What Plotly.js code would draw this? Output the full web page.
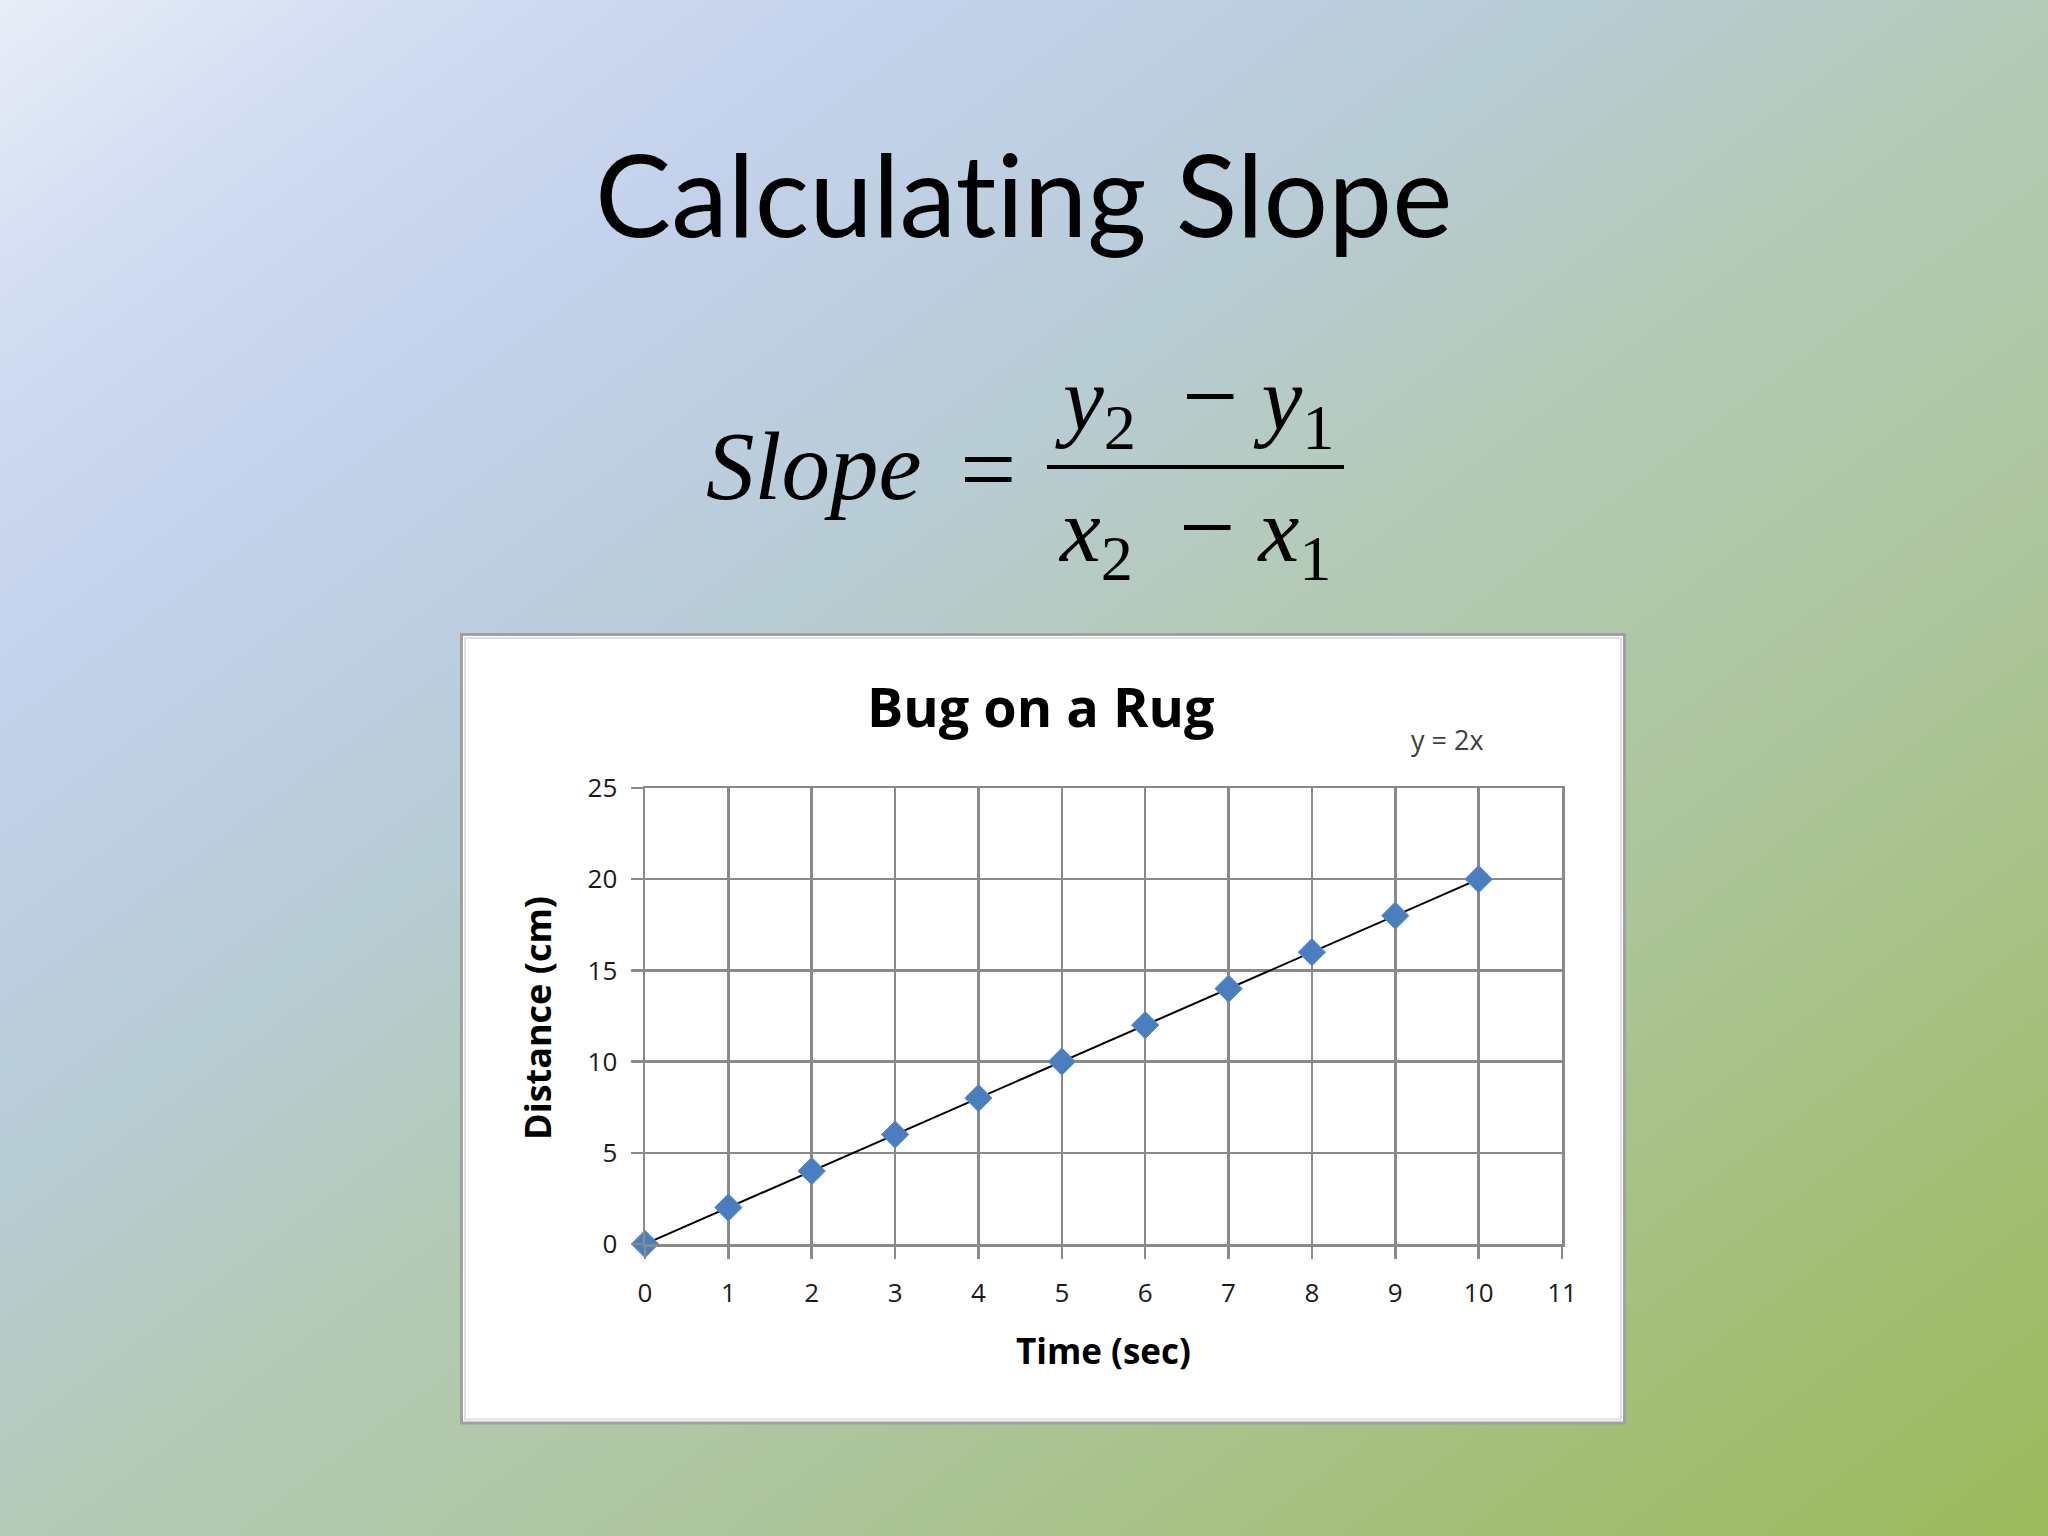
<!DOCTYPE html>
<html>
<head>
<meta charset="utf-8">
<script src="https://cdn.plot.ly/plotly-3.0.1.min.js"></script>
<style>
  html, body { margin: 0; padding: 0; width: 2048px; height: 1536px; overflow: hidden; }
  body {
    background: linear-gradient(to bottom right,
      #e8edf7 0%, #d3ddf2 10%, #c4d2ec 22%, #b8ccd6 38%, #b4cab8 50%,
      #adc59c 68%, #a3bf78 85%, #9bbb5c 100%);
  }
  #chart { width: 2048px; height: 1536px; }
  #chart text { font-variant-ligatures: none; font-feature-settings: "liga" 0; }
</style>
</head>
<body>
<div id="chart"></div>
<script>
// ---- data ----
const timeSec = [0, 1, 2, 3, 4, 5, 6, 7, 8, 9, 10];
const distanceCm = [0, 2, 4, 6, 8, 10, 12, 14, 16, 18, 20];
const trendTime = [0, 10];
const trendDistance = [0, 20];
const xTickVals = [0, 1, 2, 3, 4, 5, 6, 7, 8, 9, 10, 11];
const yTickVals = [0, 5, 10, 15, 20, 25];

const slideTitle = "Calculating Slope";
const chartTitle = "Bug on a Rug";
const xTitle = "Time (sec)";
const yTitle = "Distance (cm)";
const trendLabel = "y = 2x";

// ---- layout helpers (pixel -> paper) ----
const W = 2048, H = 1536;
const px = x => x / W;
const py = y => 1 - y / H;

const chartFont = "Open Sans, Noto Sans, sans-serif";
const mathFont = "Liberation Serif, DejaVu Serif, serif";

const traces = [
  {
    x: trendTime, y: trendDistance, type: 'scatter', mode: 'lines',
    line: { color: '#000000', width: 2 }, hoverinfo: 'skip', showlegend: false,
    cliponaxis: false
  },
  {
    x: timeSec, y: distanceCm, type: 'scatter', mode: 'markers',
    marker: { symbol: 'diamond', size: 21, color: '#4a7ebf', line: { color: '#5b8dcc', width: 1 } },
    showlegend: false, cliponaxis: false
  }
];

const gridColor = '#8a8a8a';

const layout = {
  width: W, height: H,
  margin: { l: 0, r: 0, t: 0, b: 0 },
  paper_bgcolor: 'rgba(0,0,0,0)',
  plot_bgcolor: 'rgba(0,0,0,0)',
  showlegend: false,
  xaxis: {
    domain: [px(645), px(1562)],
    range: [0, 11],
    tickvals: xTickVals,
    showgrid: true, gridcolor: gridColor, gridwidth: 2.5,
    zeroline: false,
    showline: true, linecolor: gridColor, linewidth: 2.5, mirror: true,
    ticks: 'outside', ticklen: 12, tickwidth: 2.5, tickcolor: gridColor,
    tickfont: { family: chartFont, size: 26, color: '#1a1a1a' },
    ticklabelstandoff: 12,
    fixedrange: true
  },
  yaxis: {
    domain: [py(1244), py(788)],
    range: [0, 25],
    tickvals: yTickVals,
    showgrid: true, gridcolor: gridColor, gridwidth: 2.5,
    zeroline: false,
    showline: true, linecolor: gridColor, linewidth: 2.5, mirror: true,
    ticks: 'outside', ticklen: 12, tickwidth: 2.5, tickcolor: gridColor,
    tickfont: { family: chartFont, size: 26, color: '#1a1a1a' },
    ticklabelstandoff: 8,
    fixedrange: true
  },
  shapes: [
    // white chart area
    { type: 'rect', xref: 'paper', yref: 'paper', layer: 'below',
      x0: px(461.5), x1: px(1624.5), y0: py(1423), y1: py(634.5),
      fillcolor: '#ffffff', line: { color: '#a0a0a0', width: 3 } },
    { type: 'rect', xref: 'paper', yref: 'paper', layer: 'below',
      x0: px(465), x1: px(1621), y0: py(1419.5), y1: py(638),
      fillcolor: 'rgba(0,0,0,0)', line: { color: '#e0e0e0', width: 2 } },
    // fraction bar
    { type: 'line', xref: 'paper', yref: 'paper',
      x0: px(1047), x1: px(1344), y0: py(467), y1: py(467),
      line: { color: '#000000', width: 4 } }
  ],
  annotations: [
    { text: slideTitle, xref: 'paper', yref: 'paper', x: px(1023), y: py(193),
      xanchor: 'center', yanchor: 'middle', showarrow: false,
      font: { family: 'Lato, Open Sans, sans-serif', size: 114, color: '#000000' } },
    // formula
    { text: '<i>Slope</i>', xref: 'paper', yref: 'paper', x: px(704), y: py(466),
      xanchor: 'left', yanchor: 'middle', showarrow: false,
      font: { family: mathFont, size: 97, color: '#000000' } },
    { text: '=', xref: 'paper', yref: 'paper', x: px(988), y: py(470),
      xanchor: 'center', yanchor: 'middle', showarrow: false,
      font: { family: mathFont, size: 100, color: '#000000' } },
    { text: '<i>y</i><sub>2</sub>  <span style="font-size:100px">−</span> <i>y</i><sub>1</sub>', xref: 'paper', yref: 'paper', x: px(1195), y: py(402),
      xanchor: 'center', yanchor: 'middle', showarrow: false,
      font: { family: mathFont, size: 92, color: '#000000' } },
    { text: '<i>x</i><sub>2</sub>  <span style="font-size:100px">−</span> <i>x</i><sub>1</sub>', xref: 'paper', yref: 'paper', x: px(1195), y: py(533),
      xanchor: 'center', yanchor: 'middle', showarrow: false,
      font: { family: mathFont, size: 92, color: '#000000' } },
    // chart texts
    { text: '<b>' + chartTitle + '</b>', xref: 'paper', yref: 'paper', x: px(1041), y: py(706),
      xanchor: 'center', yanchor: 'middle', showarrow: false,
      font: { family: chartFont, size: 54, color: '#000000' } },
    { text: trendLabel, xref: 'paper', yref: 'paper', x: px(1447), y: py(740),
      xanchor: 'center', yanchor: 'middle', showarrow: false,
      font: { family: chartFont, size: 27, color: '#404040' } },
    { text: '<b>' + xTitle + '</b>', xref: 'paper', yref: 'paper', x: px(1103), y: py(1350),
      xanchor: 'center', yanchor: 'middle', showarrow: false,
      font: { family: chartFont, size: 35, color: '#000000' } },
    { text: '<b>' + yTitle + '</b>', xref: 'paper', yref: 'paper', x: px(537), y: py(1018),
      xanchor: 'center', yanchor: 'middle', showarrow: false, textangle: -90,
      font: { family: chartFont, size: 36, color: '#000000' } }
  ]
};

Plotly.newPlot('chart', traces, layout, { displayModeBar: false, staticPlot: true });
</script>
</body>
</html>
